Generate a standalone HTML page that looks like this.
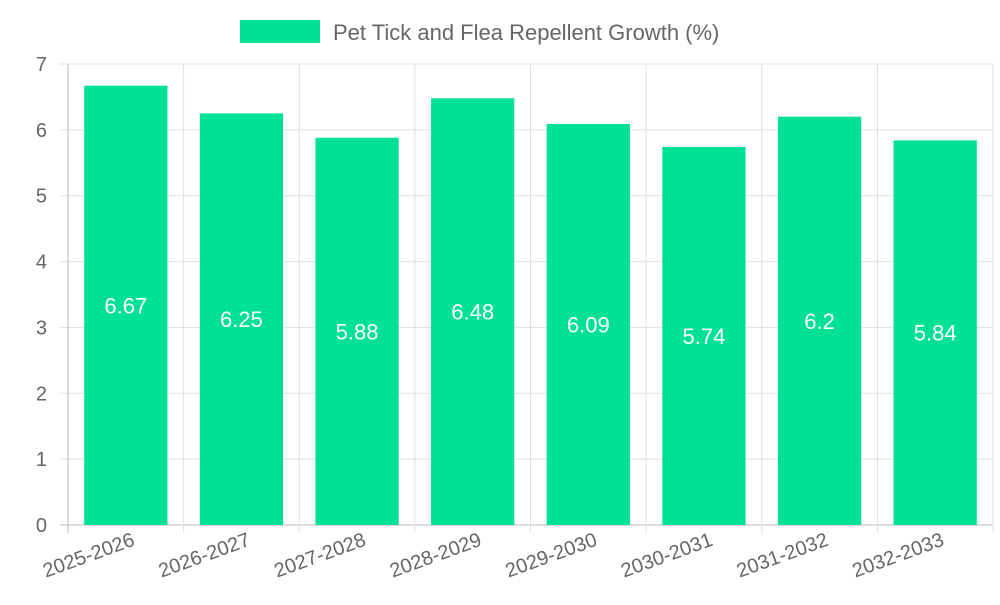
<!DOCTYPE html>
<html><head><meta charset="utf-8"><style>
body{margin:0;background:#fff;}
svg text{font-family:"Liberation Sans",sans-serif;}
</style></head><body>
<svg id="chart" width="1000" height="600" xmlns="http://www.w3.org/2000/svg">
<g id="legend">
<rect x="240" y="20" width="80" height="23" fill="#00e096"/>
<text x="333" y="40" font-size="22" fill="#666">Pet Tick and Flea Repellent Growth (%)</text>
</g>
<g id="grid"></g><g id="bars"></g><g id="axes"></g>
</svg>
<script>
const categories=["2025-2026","2026-2027","2027-2028","2028-2029","2029-2030","2030-2031","2031-2032","2032-2033"];
const values=[6.67,6.25,5.88,6.48,6.09,5.74,6.2,5.84];
const yTicks=[0,1,2,3,4,5,6,7];
const L=68,R=993,T=64,B=525,yMax=7;
const ns="http://www.w3.org/2000/svg";
const bw=(R-L)/categories.length;
const y=v=>B-(v/yMax)*(B-T);
const x=i=>L+i*bw;
function mk(tag,attrs,parent){const e=document.createElementNS(ns,tag);for(const k in attrs)e.setAttribute(k,attrs[k]);parent.appendChild(e);return e;}
const grid=document.getElementById('grid'),bars=document.getElementById('bars'),axes=document.getElementById('axes');
yTicks.forEach(t=>{
 const gl=mk('line',{x1:L-8,x2:R,y1:y(t),y2:y(t),stroke:t===0?'#bbb':'#e0e0e0','stroke-width':1},grid);
 
 
 const tl=mk('text',{x:47,y:y(t)+7,'font-size':20,fill:'#666','text-anchor':'end'},axes);
 tl.textContent=t;
 
 
});
for(let i=0;i<=categories.length;i++){
 const vl=mk('line',{x1:x(i),x2:x(i),y1:T,y2:B+8,stroke:i===0?'#bbb':'#e0e0e0','stroke-width':1},grid);
 
 
}
categories.forEach((c,i)=>{
 const w=bw*0.72,bx=x(i)+(bw-w)/2;
 const r=mk('rect',{x:bx,y:y(values[i]),width:w,height:B-y(values[i]),fill:'#00e096'},bars);
 
 
 const vt=mk('text',{x:bx+w/2,y:(y(values[i])+B)/2+8,'font-size':22,fill:'#fff','text-anchor':'middle'},bars);
 vt.textContent=values[i];
 
 
 const cx=x(i)+bw/2+10,cy=B+20;
 const xl=mk('text',{x:cx,y:cy,'font-size':20,fill:'#666','text-anchor':'end',transform:`rotate(-20 ${cx} ${cy})`},axes);
 xl.textContent=c;
 
 
});
</script>
</body></html>
